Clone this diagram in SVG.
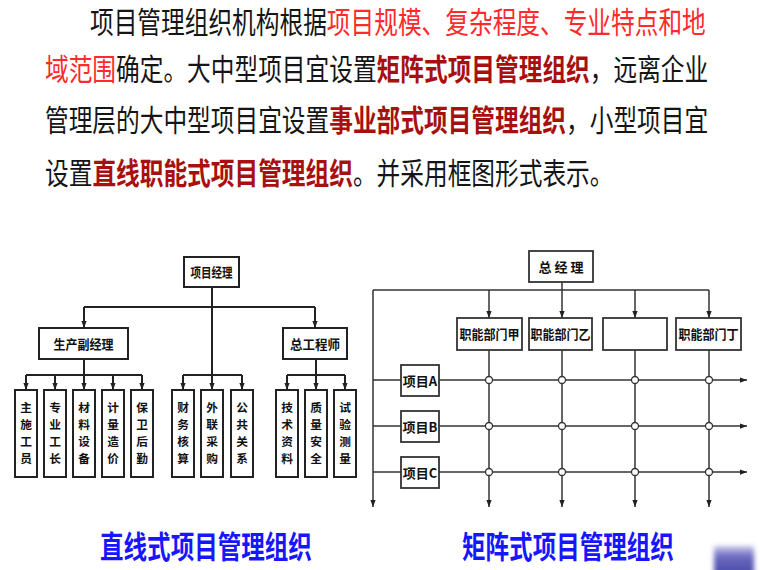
<svg xmlns="http://www.w3.org/2000/svg" width="760" height="570" viewBox="0 0 760 570">
<defs>
<style>
.p{font-family:"Noto Sans CJK SC","Noto Sans",sans-serif;font-size:30px;}
.blk{fill:#151515;}
.red{fill:#ff2a2a;}
.dred{fill:#a81010;font-weight:bold;}
.ttl{font-family:"Noto Sans CJK SC","Noto Sans",sans-serif;font-size:31px;font-weight:bold;fill:#1616ff;}
.bx{fill:#fff;stroke:#222;stroke-width:2;}
.bx2{fill:#fff;stroke:#333;stroke-width:1.8;}
.ln{fill:none;stroke:#222;stroke-width:2;}
.ln2{fill:none;stroke:#333;stroke-width:1.5;}
.t{font-family:"Noto Sans CJK SC","Noto Sans",sans-serif;font-size:13px;font-weight:bold;fill:#111;text-anchor:middle;}
.v{font-family:"Noto Sans CJK SC","Noto Sans",sans-serif;font-size:11.7px;font-weight:bold;fill:#111;text-anchor:middle;}
.ci{fill:#fff;stroke:#333;stroke-width:1.3;}
</style>
<marker id="ah" viewBox="0 0 8 6" markerWidth="7" markerHeight="6" refX="8" refY="3" orient="auto" markerUnits="userSpaceOnUse">
<path d="M0,0 L8,3 L0,6 z" fill="#222"/>
</marker>
<linearGradient id="bg" x1="0" y1="0" x2="0" y2="1">
<stop offset="0" stop-color="#c8c8ec"/>
<stop offset="0.35" stop-color="#6a6ac0"/>
<stop offset="1" stop-color="#4848a8"/>
</linearGradient>
<filter id="bl" x="-30%" y="-30%" width="160%" height="160%"><feGaussianBlur stdDeviation="2.5"/></filter>
</defs>

<g id="paragraph" class="p">
<text transform="translate(90,33) scale(0.79,1)"><tspan class="blk">项目管理组织机构根据</tspan><tspan class="red">项目规模、复杂程度、专业特点和地</tspan></text>
<text transform="translate(45,80) scale(0.79,1)"><tspan class="red">域范围</tspan><tspan class="blk">确定。大中型项目宜设置</tspan><tspan class="dred">矩阵式项目管理组织</tspan><tspan class="blk">，远离企业</tspan></text>
<text transform="translate(45,131) scale(0.79,1)"><tspan class="blk">管理层的大中型项目宜设置</tspan><tspan class="dred">事业部式项目管理组织</tspan><tspan class="blk">，小型项目宜</tspan></text>
<text transform="translate(45,184) scale(0.79,1)"><tspan class="blk">设置</tspan><tspan class="dred">直线职能式项目管理组织</tspan><tspan class="blk">。并采用框图形式表示。</tspan></text>
</g>

<!-- Left: line organisation connectors -->
<g id="connectors-left" class="ln">
<path d="M212,287 V375"/>
<path d="M84,307 H315"/>
<path d="M84,307 V328" marker-end="url(#ah)"/>
<path d="M315,307 V328" marker-end="url(#ah)"/>
<path d="M84,359 V375"/>
<path d="M26,375 H142"/>
<path d="M26,375 V390" marker-end="url(#ah)"/>
<path d="M55,375 V390" marker-end="url(#ah)"/>
<path d="M84,375 V390" marker-end="url(#ah)"/>
<path d="M113,375 V390" marker-end="url(#ah)"/>
<path d="M142,375 V390" marker-end="url(#ah)"/>
<path d="M183,375 H242"/>
<path d="M183,375 V390" marker-end="url(#ah)"/>
<path d="M212,375 V390" marker-end="url(#ah)"/>
<path d="M242,375 V390" marker-end="url(#ah)"/>
<path d="M316,359 V375"/>
<path d="M287,375 H345"/>
<path d="M287,375 V390" marker-end="url(#ah)"/>
<path d="M316,375 V390" marker-end="url(#ah)"/>
<path d="M345,375 V390" marker-end="url(#ah)"/>
</g>

<g id="n-xmjl"><rect class="bx" x="184" y="257" width="55" height="30"/><text class="t" x="211.5" y="277" textLength="42" lengthAdjust="spacingAndGlyphs">项目经理</text></g>
<g id="n-scfjl"><rect class="bx" x="39" y="328" width="89" height="31"/><text class="t" x="83.5" y="349" textLength="60" lengthAdjust="spacingAndGlyphs">生产副经理</text></g>
<g id="n-zgcs"><rect class="bx" x="283" y="328" width="64" height="31"/><text class="t" x="315" y="349" textLength="50" lengthAdjust="spacingAndGlyphs">总工程师</text></g>

<g id="n-zsgy"><rect class="bx" x="15" y="390" width="22" height="87"/><text class="v" x="26" y="412">主</text><text class="v" x="26" y="429">施</text><text class="v" x="26" y="446">工</text><text class="v" x="26" y="463">员</text></g>
<g id="n-zygz"><rect class="bx" x="44" y="390" width="22" height="87"/><text class="v" x="55" y="412">专</text><text class="v" x="55" y="429">业</text><text class="v" x="55" y="446">工</text><text class="v" x="55" y="463">长</text></g>
<g id="n-clsb"><rect class="bx" x="73" y="390" width="22" height="87"/><text class="v" x="84" y="412">材</text><text class="v" x="84" y="429">料</text><text class="v" x="84" y="446">设</text><text class="v" x="84" y="463">备</text></g>
<g id="n-jlzj"><rect class="bx" x="102" y="390" width="22" height="87"/><text class="v" x="113" y="412">计</text><text class="v" x="113" y="429">量</text><text class="v" x="113" y="446">造</text><text class="v" x="113" y="463">价</text></g>
<g id="n-bwhq"><rect class="bx" x="131" y="390" width="22" height="87"/><text class="v" x="142" y="412">保</text><text class="v" x="142" y="429">卫</text><text class="v" x="142" y="446">后</text><text class="v" x="142" y="463">勤</text></g>
<g id="n-cwhs"><rect class="bx" x="172" y="390" width="22" height="87"/><text class="v" x="183" y="412">财</text><text class="v" x="183" y="429">务</text><text class="v" x="183" y="446">核</text><text class="v" x="183" y="463">算</text></g>
<g id="n-wlcg"><rect class="bx" x="201" y="390" width="22" height="87"/><text class="v" x="212" y="412">外</text><text class="v" x="212" y="429">联</text><text class="v" x="212" y="446">采</text><text class="v" x="212" y="463">购</text></g>
<g id="n-ggxx"><rect class="bx" x="231" y="390" width="22" height="87"/><text class="v" x="242" y="412">公</text><text class="v" x="242" y="429">共</text><text class="v" x="242" y="446">关</text><text class="v" x="242" y="463">系</text></g>
<g id="n-jszl"><rect class="bx" x="276" y="390" width="22" height="87"/><text class="v" x="287" y="412">技</text><text class="v" x="287" y="429">术</text><text class="v" x="287" y="446">资</text><text class="v" x="287" y="463">料</text></g>
<g id="n-zlaq"><rect class="bx" x="305" y="390" width="22" height="87"/><text class="v" x="316" y="412">质</text><text class="v" x="316" y="429">量</text><text class="v" x="316" y="446">安</text><text class="v" x="316" y="463">全</text></g>
<g id="n-sycl"><rect class="bx" x="334" y="390" width="22" height="87"/><text class="v" x="345" y="412">试</text><text class="v" x="345" y="429">验</text><text class="v" x="345" y="446">测</text><text class="v" x="345" y="463">量</text></g>

<!-- Right: matrix organisation connectors -->
<g id="connectors-right" class="ln2">
<path d="M562,282 V290"/>
<path d="M373,290 H709"/>
<path d="M373,290 V507" marker-end="url(#ah)"/>
<path d="M489,290 V318" marker-end="url(#ah)"/>
<path d="M562,290 V318" marker-end="url(#ah)"/>
<path d="M635,290 V318" marker-end="url(#ah)"/>
<path d="M709,290 V318" marker-end="url(#ah)"/>
<path d="M489,350 V507" marker-end="url(#ah)"/>
<path d="M562,350 V507" marker-end="url(#ah)"/>
<path d="M635,350 V507" marker-end="url(#ah)"/>
<path d="M709,350 V507" marker-end="url(#ah)"/>
<path d="M373,380 H747" marker-end="url(#ah)"/>
<path d="M373,426 H747" marker-end="url(#ah)"/>
<path d="M373,472 H747" marker-end="url(#ah)"/>
<g class="ci">
<circle cx="489" cy="380" r="3.5"/><circle cx="562" cy="380" r="3.5"/><circle cx="635" cy="380" r="3.5"/><circle cx="709" cy="380" r="3.5"/>
<circle cx="489" cy="426" r="3.5"/><circle cx="562" cy="426" r="3.5"/><circle cx="635" cy="426" r="3.5"/><circle cx="709" cy="426" r="3.5"/>
<circle cx="489" cy="472" r="3.5"/><circle cx="562" cy="472" r="3.5"/><circle cx="635" cy="472" r="3.5"/><circle cx="709" cy="472" r="3.5"/>
</g>
</g>

<g id="n-zjl"><rect class="bx2" x="529" y="251" width="64" height="31"/><text class="t" x="561" y="272" xml:space="preserve">总 经 理</text></g>
<g id="n-bmj"><rect class="bx2" x="457" y="318" width="65" height="32"/><text class="t" x="489.5" y="339" textLength="60" lengthAdjust="spacingAndGlyphs">职能部门甲</text></g>
<g id="n-bmy"><rect class="bx2" x="529" y="318" width="63" height="32"/><text class="t" x="560.5" y="339" textLength="60" lengthAdjust="spacingAndGlyphs">职能部门乙</text></g>
<g id="n-blank"><rect class="bx2" x="603" y="318" width="64" height="32"/></g>
<g id="n-bmd"><rect class="bx2" x="676" y="318" width="65" height="32"/><text class="t" x="708.5" y="339" textLength="60" lengthAdjust="spacingAndGlyphs">职能部门丁</text></g>
<g id="n-xma"><rect class="bx2" x="401" y="365" width="38" height="31"/><text class="t" x="420" y="385.5">项目A</text></g>
<g id="n-xmb"><rect class="bx2" x="401" y="411" width="38" height="31"/><text class="t" x="420" y="431.5">项目B</text></g>
<g id="n-xmc"><rect class="bx2" x="401" y="457" width="38" height="31"/><text class="t" x="420" y="477.5">项目C</text></g>

<g id="titles">
<text class="ttl" transform="translate(100,558) scale(0.76,1)">直线式项目管理组织</text>
<text class="ttl" transform="translate(462,558) scale(0.76,1)">矩阵式项目管理组织</text>
</g>

<rect x="714" y="546" width="40" height="30" fill="url(#bg)" filter="url(#bl)"/>
</svg>
